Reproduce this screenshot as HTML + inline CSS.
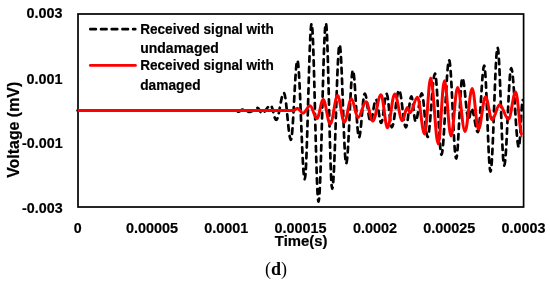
<!DOCTYPE html>
<html><head><meta charset="utf-8"><style>
html,body{margin:0;padding:0;background:#fff;width:550px;height:284px;overflow:hidden}
svg{display:block}
.t{font-family:"Liberation Sans",Arial,sans-serif;font-weight:bold;fill:#000;stroke:#000;stroke-width:0.2px}
.c{font-family:"Liberation Serif","Times New Roman",serif;fill:#000}
</style></head><body>
<svg width="550" height="284" viewBox="0 0 550 284">
<rect x="0" y="0" width="550" height="284" fill="#fff"/>
<!--TXT-->
<text class="t" x="62.60" y="18.30" font-size="14.20" text-anchor="end" textLength="36.00" lengthAdjust="spacingAndGlyphs">0.003</text>
<text class="t" x="62.60" y="83.50" font-size="14.20" text-anchor="end" textLength="36.00" lengthAdjust="spacingAndGlyphs">0.001</text>
<text class="t" x="62.60" y="148.20" font-size="14.20" text-anchor="end" textLength="40.50" lengthAdjust="spacingAndGlyphs">-0.001</text>
<text class="t" x="62.60" y="212.50" font-size="14.20" text-anchor="end" textLength="40.50" lengthAdjust="spacingAndGlyphs">-0.003</text>
<text class="t" x="77.60" y="232.50" font-size="14.20" text-anchor="middle">0</text>
<text class="t" x="151.93" y="232.50" font-size="14.20" text-anchor="middle" textLength="52.00" lengthAdjust="spacingAndGlyphs">0.00005</text>
<text class="t" x="226.27" y="232.50" font-size="14.20" text-anchor="middle" textLength="44.00" lengthAdjust="spacingAndGlyphs">0.0001</text>
<text class="t" x="300.60" y="232.50" font-size="14.20" text-anchor="middle" textLength="52.00" lengthAdjust="spacingAndGlyphs">0.00015</text>
<text class="t" x="374.93" y="232.50" font-size="14.20" text-anchor="middle" textLength="44.00" lengthAdjust="spacingAndGlyphs">0.0002</text>
<text class="t" x="449.27" y="232.50" font-size="14.20" text-anchor="middle" textLength="52.00" lengthAdjust="spacingAndGlyphs">0.00025</text>
<text class="t" x="523.60" y="232.50" font-size="14.20" text-anchor="middle" textLength="44.00" lengthAdjust="spacingAndGlyphs">0.0003</text>
<text class="t" x="301.10" y="246.40" font-size="14.40" text-anchor="middle" textLength="52.50" lengthAdjust="spacingAndGlyphs">Time(s)</text>
<text class="t" font-size="15.60" textLength="96.00" lengthAdjust="spacingAndGlyphs" transform="translate(18.50,177.80) rotate(-90)">Voltage (mV)</text>
<text class="t" x="140.20" y="33.80" font-size="15.00" textLength="133.50" lengthAdjust="spacingAndGlyphs">Received signal with</text>
<text class="t" x="140.20" y="53.00" font-size="15.00" textLength="78.60" lengthAdjust="spacingAndGlyphs">undamaged</text>
<text class="t" x="140.20" y="69.90" font-size="15.00" textLength="133.50" lengthAdjust="spacingAndGlyphs">Received signal with</text>
<text class="t" x="140.20" y="90.00" font-size="15.00" textLength="60.40" lengthAdjust="spacingAndGlyphs">damaged</text>
<text class="c" x="276.10" y="274.60" font-size="18.00" text-anchor="middle">(<tspan font-weight="bold">d</tspan>)</text>
<!--/TXT-->
<line x1="90.3" y1="29.15" x2="135.3" y2="29.15" stroke="#000" stroke-width="2.6" stroke-dasharray="5.6,5.1" stroke-linecap="round"/>
<line x1="90.3" y1="65.4" x2="135.5" y2="65.4" stroke="#f00" stroke-width="2.7" stroke-linecap="round"/>
<!-- plot frame -->
<rect x="78" y="14" width="445.6" height="193" fill="none" stroke="#000" stroke-width="1.7"/>
<line x1="78.8" y1="110.3" x2="522.8" y2="110.3" stroke="#b8b8b8" stroke-width="0.9"/>
<!--WAVE-->
<path d="M77.5,110.5 C133.8,110.5 177.7,110.5 234.0,110.5 C235.6,110.5 236.9,111.6 238.5,111.6 C239.9,111.6 241.1,109.6 242.5,109.6 C245.2,109.6 247.3,111.8 250.0,111.8 C252.8,111.8 255.0,107.8 257.8,107.8 C259.2,107.8 260.4,113.3 261.8,113.3 C265.0,113.3 267.5,105.5 270.7,105.5 C272.7,105.5 274.2,120.0 276.2,120.0 C279.0,120.0 281.1,92.9 283.9,92.9 C286.4,92.9 288.4,139.8 290.9,139.8 C293.2,139.8 295.1,60.5 297.4,60.5 C300.0,60.5 302.1,179.3 304.7,179.3 C307.2,179.3 309.1,23.8 311.6,23.8 C314.1,23.8 316.0,201.6 318.5,201.6 C321.2,201.6 323.2,23.4 325.9,23.4 C328.2,23.4 329.9,188.8 332.2,188.8 C334.9,188.8 336.9,45.0 339.6,45.0 C342.0,45.0 343.8,163.4 346.2,163.4 C348.6,163.4 350.5,70.5 352.9,70.5 C355.1,70.5 356.8,137.4 359.0,137.4 C361.1,137.4 362.7,93.6 364.8,93.6 C366.9,93.6 368.4,121.5 370.5,121.5 C372.5,121.5 374.0,99.5 376.0,99.5 C377.9,99.5 379.3,123.0 381.2,123.0 C383.1,123.0 384.7,93.8 386.6,93.8 C388.5,93.8 389.9,127.3 391.8,127.3 C394.4,127.3 396.5,90.3 399.1,90.3 C401.5,90.3 403.5,127.3 405.9,127.3 C407.9,127.3 409.4,96.4 411.4,96.4 C412.9,96.4 414.1,121.5 415.6,121.5 C417.8,121.5 419.6,93.4 421.8,93.4 C423.9,93.4 425.5,137.0 427.6,137.0 C430.3,137.0 432.3,73.6 435.0,73.6 C437.3,73.6 439.2,154.8 441.5,154.8 C444.2,154.8 446.4,60.2 449.1,60.2 C451.7,60.2 453.6,158.6 456.2,158.6 C458.4,158.6 460.2,78.2 462.4,78.2 C464.7,78.2 466.4,120.0 468.7,120.0 C469.7,120.0 470.5,108.6 471.5,108.6 C473.8,108.6 475.6,132.2 477.9,132.2 C480.2,132.2 481.9,65.6 484.2,65.6 C486.5,65.6 488.2,171.6 490.5,171.6 C493.1,171.6 495.0,47.8 497.6,47.8 C500.0,47.8 501.8,165.6 504.2,165.6 C506.7,165.6 508.7,68.0 511.2,68.0 C513.9,68.0 516.1,147.0 518.8,147.0 C520.2,147.0 521.4,100.0 522.8,100.0" fill="none" stroke="#000" stroke-width="2.7" stroke-dasharray="5.4,5.3" stroke-linecap="round" stroke-linejoin="round"/>
<path d="M77.5,110.5 C155.4,110.5 216.1,110.5 294.0,110.5 C295.2,110.5 296.0,108.2 297.2,108.2 C299.3,108.2 300.9,113.2 303.0,113.2 C305.5,113.2 307.5,105.8 310.0,105.8 C312.5,105.8 314.5,118.5 317.0,118.5 C319.2,118.5 321.0,99.4 323.2,99.4 C325.7,99.4 327.7,124.1 330.2,124.1 C332.9,124.1 334.9,95.6 337.6,95.6 C340.0,95.6 341.9,122.3 344.3,122.3 C346.9,122.3 348.8,98.7 351.4,98.7 C353.8,98.7 355.6,117.6 358.0,117.6 C360.9,117.6 363.1,101.7 366.0,101.7 C368.4,101.7 370.4,121.1 372.8,121.1 C375.8,121.1 378.0,94.7 381.0,94.7 C383.3,94.7 385.2,127.8 387.5,127.8 C390.1,127.8 392.1,94.0 394.7,94.0 C397.4,94.0 399.6,120.7 402.3,120.7 C404.1,120.7 405.5,107.5 407.3,107.5 C408.3,107.5 409.0,112.8 410.0,112.8 C412.7,112.8 414.7,97.2 417.4,97.2 C420.0,97.2 422.0,134.0 424.6,134.0 C426.8,134.0 428.5,78.0 430.7,78.0 C433.4,78.0 435.5,144.0 438.2,144.0 C440.4,144.0 442.2,80.8 444.4,80.8 C446.8,80.8 448.6,136.1 451.0,136.1 C453.4,136.1 455.2,87.6 457.6,87.6 C460.3,87.6 462.3,131.5 465.0,131.5 C467.6,131.5 469.6,88.4 472.2,88.4 C474.5,88.4 476.2,129.2 478.5,129.2 C481.0,129.2 483.0,96.8 485.5,96.8 C487.9,96.8 489.7,119.6 492.1,119.6 C494.8,119.6 496.9,104.8 499.6,104.8 C502.8,104.8 505.3,119.2 508.5,119.2 C511.1,119.2 513.0,92.0 515.6,92.0 C518.0,92.0 519.8,136.0 522.2,136.0" fill="none" stroke="#f00" stroke-width="3.0" stroke-linecap="butt" stroke-linejoin="round"/>
<!--/WAVE-->
</svg>
</body></html>
